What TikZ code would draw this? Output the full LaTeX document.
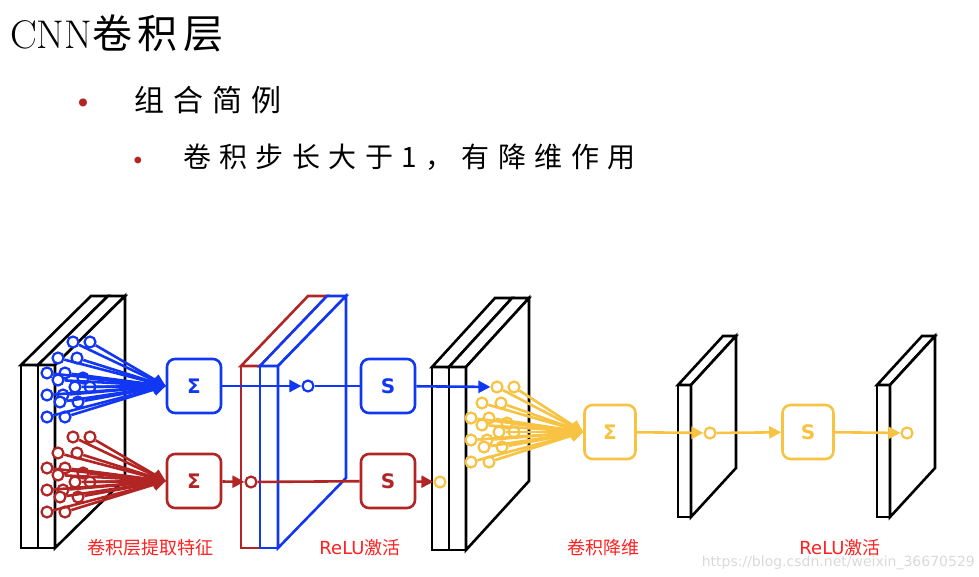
\documentclass[tikz,border=0pt]{standalone}
\usepackage{fontspec}
\setsansfont{DejaVu Sans}
\newfontfamily\cjk{Noto Sans CJK SC}
\newfontfamily\cjkw{Noto Sans CJK SC}[LetterSpace=30]
\newfontfamily\cjkt{Noto Sans CJK SC}[LetterSpace=14]
\usetikzlibrary{arrows.meta}
\definecolor{cb}{HTML}{1237F2}
\definecolor{cr}{HTML}{B22525}
\definecolor{cy}{HTML}{F8C343}
\definecolor{lr}{HTML}{FF2020}
\tikzset{
 neu/.style={circle,draw,fill=white,inner sep=0,minimum size=11pt,line width=2.2pt},
 box/.style={draw,rounded corners=8pt,minimum width=54pt,minimum height=54pt,line width=2.6pt,font=\sffamily\bfseries\fontsize{20}{20}\selectfont},
 con/.style={line width=2.6pt,-{Triangle[length=12pt,width=12pt]}},
 pl/.style={line width=2.6pt},
 slabln/.style={draw=black,fill=white,line width=2.6pt,line join=miter},
 lab/.style={text=lr,font=\cjk\fontsize{18}{18}\selectfont,anchor=base}
}
% \myslab{x0}{y0}{w}{h}{dx}{dy}{n}{style}
\newcommand\myslab[8]{%
 \foreach \i in {1,...,#7}{%
   \pgfmathsetmacro\xa{#1+(\i-1)*#3}\pgfmathsetmacro\xb{#1+\i*#3}%
   \path[#8] (\xa,#2) rectangle (\xb,#2+#4);
   \path[#8] (\xa,#2) -- ++(#5,#6) -- (\xb+#5,#2+#6) -- (\xb,#2) -- cycle;}
 \pgfmathsetmacro\xe{#1+#7*#3}%
 \path[#8] (\xe,#2) -- ++(#5,#6) -- ++(0,#4) -- (\xe,#2+#4) -- cycle;}
\begin{document}
\begin{tikzpicture}[x=1pt,y=-1pt]
\useasboundingbox (0,0) rectangle (979,576);
% titles
\node[anchor=base west,inner sep=0,font=\fontsize{40}{40}\selectfont] (t1) at (10,48) {CNN{\cjkt 卷积层}};
\node[anchor=base west,inner sep=0,text=cr,font=\fontsize{36}{36}\selectfont] (bu1) at (70,112) {•};
\node[anchor=base west,inner sep=0,font=\cjkw\fontsize{30}{30}\selectfont] (t2) at (134,111) {组合简例};
\node[anchor=base west,inner sep=0,text=cr,font=\fontsize{30}{30}\selectfont] (bu2) at (127,168) {•};
\node[anchor=base west,inner sep=0,font=\cjkw\fontsize{28}{28}\selectfont] (t3) at (183,167) {卷积步长大于1，有降维作用};
% slabs
\myslab{21}{365}{17}{183}{70}{-69}{2}{slabln}
\path[draw=cr,fill=white,line width=2.6pt] (241,366) rectangle (260,548);
\path[draw=cr,fill=white,line width=2.6pt] (241,366) -- (308,296) -- (327,296) -- (260,366) -- cycle;
\path[draw=cb,fill=white,line width=2.6pt] (260,366) rectangle (278,548);
\path[draw=cb,fill=white,line width=2.6pt] (260,366) -- (327,296) -- (346,296) -- (278,366) -- cycle;
\path[draw=cb,fill=white,line width=2.6pt] (278,366) -- (346,296) -- (346,478) -- (278,548) -- cycle;
\myslab{432}{367}{17}{183}{63}{-69}{2}{slabln}
\myslab{678}{385}{13}{132}{45}{-49}{1}{slabln}
\myslab{877}{385}{13}{132}{45}{-49}{1}{slabln}
% boxes
\node[box,draw=cb,text=cb] (bsum) at (194,386) {Σ};
\node[box,draw=cr,text=cr] (rsum) at (194,481) {Σ};
\node[box,draw=cb,text=cb] (bs) at (388,386) {S};
\node[box,draw=cr,text=cr] (rs) at (388,481) {S};
\node[box,draw=cy,text=cy,minimum width=51pt] (ysum) at (610,432) {Σ};
\node[box,draw=cy,text=cy,minimum width=51pt] (ys) at (808,432) {S};
% neuron clusters
\foreach \dx/\dy [count=\k] in {0/0,17/0,-15/16,4/16,-26/31,-8/31,10/36,17/45,-15/38,2/45,-26/53,-10/53,5/60,-13/60,-26/75,-8/75}{
  \node[neu,draw=cb] (b\k) at (73+\dx,342+\dy) {};
  \node[neu,draw=cr] (r\k) at (73+\dx,437+\dy) {};
  \node[neu,draw=cy] (y\k) at (497+\dx,387+\dy) {};
}
\foreach \k in {1,...,16}{
  \draw[con,cb] (b\k) -- (bsum.west);
  \draw[con,cr] (r\k) -- (rsum.west);
  \draw[con,cy] (y\k) -- (ysum.west);
}
% single neurons
\node[neu,draw=cb] (bo) at (308,386) {};
\node[neu,draw=cr] (ro) at (251,482) {};
\node[neu,draw=cy] (ro2) at (440,482) {};
\node[neu,draw=cy] (yo1) at (710,433) {};
\node[neu,draw=cy] (yo2) at (907,433) {};
\draw[con,cb] (bsum) -- (bo);
\draw[pl,cb] (bo) -- (bs);
\draw[con,cb] (bs) -- (y1);
\draw[con,cr] (rsum) -- (ro);
\draw[pl,cr] (ro) -- (rs);
\draw[con,cr] (rs) -- (ro2);
\draw[con,cy] (ysum) -- (yo1);
\draw[con,cy] (yo1) -- (ys);
\draw[con,cy] (ys) -- (yo2);
% labels
\node[lab] (l1) at (150,554) {卷积层提取特征};
\node[lab,font=\sffamily\fontsize{18}{18}\selectfont] (l2) at (360,554) {ReLU{\cjk 激活}};
\node[lab] (l3) at (603,554) {卷积降维};
\node[lab,font=\sffamily\fontsize{18}{18}\selectfont] (l4) at (840,554) {ReLU{\cjk 激活}};
\node[anchor=base east,inner sep=0,text=black!15,font=\sffamily\fontsize{14}{14}\selectfont] (wm) at (975,566) {https://blog.csdn.net/weixin\_36670529};
\end{tikzpicture}
\end{document}
